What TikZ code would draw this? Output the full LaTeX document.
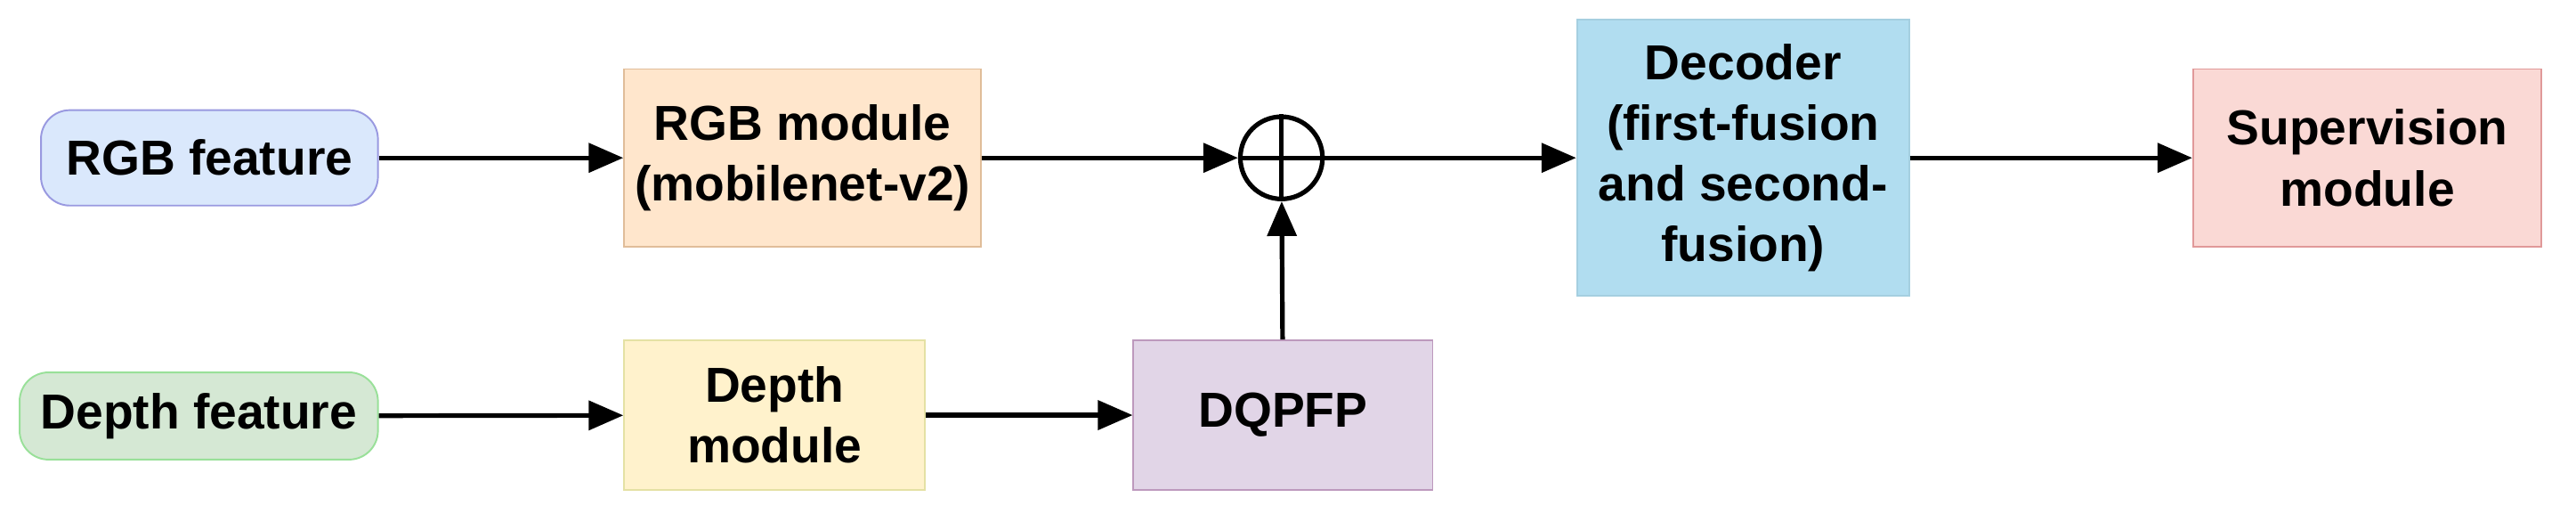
\documentclass[tikz,border=0pt]{standalone}
\usepackage{fontspec}
\setmainfont{Liberation Sans}
\usetikzlibrary{arrows.meta}
\begin{document}
\begin{tikzpicture}[x=0.01cm,y=-0.01cm,
  box/.style={draw=#1!70!black!40, line width=0.3pt, font=\fontsize{8.5}{10.5}\selectfont\bfseries, align=center, inner sep=0pt},
  arr/.style={-{Triangle[length=6pt,width=5pt]}, line width=0.8pt}]
\useasboundingbox (0,0) rectangle (1568,317);
\node[box=blue, fill={rgb,255:red,218;green,232;blue,252}, rounded corners=5pt, minimum width=205\pgflinewidth*0+2.05cm, minimum height=0.58cm] (rgbf) at (127.5,96) {RGB feature};
\node[box=orange, fill={rgb,255:red,255;green,230;blue,204}, minimum width=2.17cm, minimum height=1.08cm] (rgbm) at (488.5,96) {RGB module\\(mobilenet-v2)};
\node[draw, circle, line width=0.8pt, minimum size=0.5cm, inner sep=0pt] (plus) at (780,96) {};
\draw[line width=0.8pt] (plus.north) -- (plus.south) (plus.west) -- (plus.east);
\node[box=cyan, fill={rgb,255:red,177;green,221;blue,240}, minimum width=2.02cm, minimum height=1.68cm] (dec) at (1061,96) {Decoder\\(first-fusion\\and second-\\fusion)};
\node[box=red, fill={rgb,255:red,250;green,217;blue,213}, minimum width=2.12cm, minimum height=1.08cm] (sup) at (1441,96) {Supervision\\module};
\node[box=green, fill={rgb,255:red,213;green,232;blue,212}, rounded corners=5pt, minimum width=2.18cm, minimum height=0.53cm] (depf) at (121,253) {Depth feature};
\node[box=yellow, fill={rgb,255:red,255;green,242;blue,204}, minimum width=1.83cm, minimum height=0.91cm] (depm) at (471.5,252.5) {Depth\\module};
\node[box=violet, fill={rgb,255:red,225;green,213;blue,231}, minimum width=1.82cm, minimum height=0.91cm] (dq) at (781,252.5) {DQPFP};
\draw[arr] (rgbf) -- (rgbm);
\draw[arr] (rgbm) -- (plus);
\draw[arr] (plus) -- (dec);
\draw[arr] (dec) -- (sup);
\draw[arr] (depf) -- (depm);
\draw[arr] (depm) -- (dq);
\draw[arr] (dq) -- (plus);
\end{tikzpicture}
\end{document}
